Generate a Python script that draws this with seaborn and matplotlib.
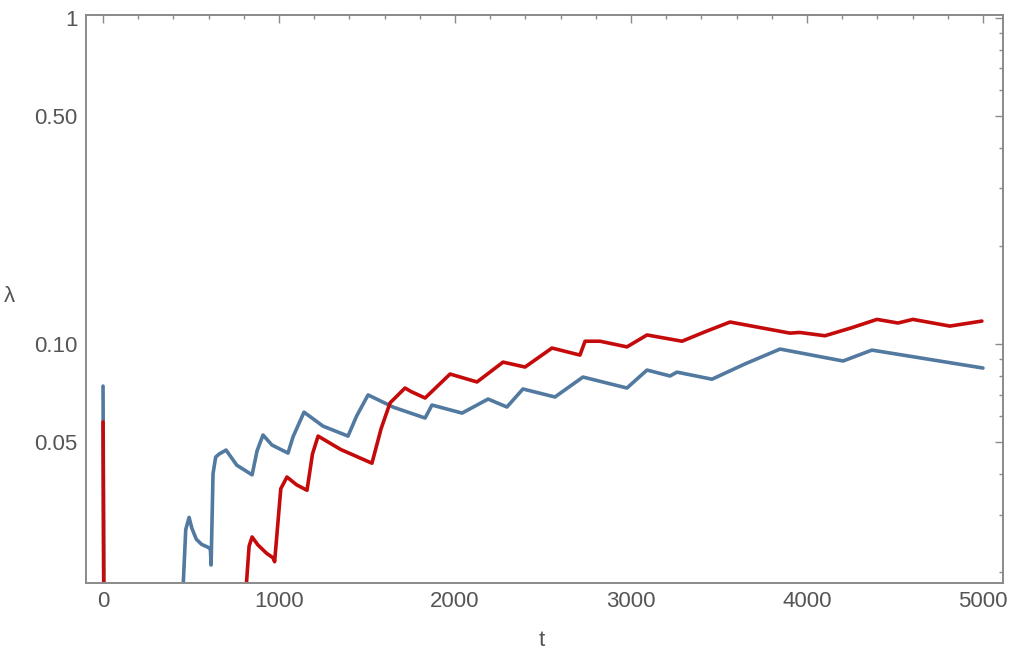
#Plot lambda(t) for two runs, log scale on lambda
import numpy as np
import matplotlib
matplotlib.use('Agg')
import matplotlib.pyplot as plt
import matplotlib.ticker as mticker
import seaborn as sns
import pandas as pd

#values
t_blue = [0, 6, 440, 470, 489, 505, 530, 560, 597, 610, 614, 625, 640, 660, 699, 760, 847, 875, 909,
          960, 1051, 1080, 1142, 1250, 1392, 1440, 1506, 1650, 1830, 1869, 2040, 2188, 2295, 2386, 2568,
          2727, 2977, 3091, 3222, 3261, 3460, 3650, 3847, 4205, 4369, 5000]
lam_blue = [0.0743, 0.01, 0.012, 0.027, 0.0294, 0.0272, 0.0252, 0.0243, 0.0238, 0.0235, 0.021, 0.040, 0.045, 0.046, 0.0473, 0.0425, 0.0397, 0.047, 0.0526,
            0.0490, 0.0463, 0.052, 0.0618, 0.0560, 0.0522, 0.060, 0.0698, 0.0640, 0.0593, 0.065, 0.0614, 0.0678, 0.0641, 0.0728, 0.0688,
            0.0792, 0.0733, 0.0832, 0.0798, 0.082, 0.078, 0.0870, 0.0965, 0.0887, 0.0958, 0.0844]

t_red = [0, 6, 790, 830, 847, 880, 930, 966, 975, 1010, 1045, 1100, 1159, 1190, 1222, 1350, 1528, 1580,
         1631, 1716, 1750, 1830, 1972, 2125, 2273, 2398, 2551, 2710, 2739, 2824, 2977,
         3091, 3290, 3420, 3563, 3903, 3960, 4102, 4250, 4398, 4517, 4602, 4812, 4994]
lam_red = [0.0577, 0.01, 0.012, 0.024, 0.0256, 0.0242, 0.0228, 0.0221, 0.0215, 0.036, 0.0391, 0.0370, 0.0356, 0.046, 0.0522, 0.0475, 0.0431, 0.055,
           0.066, 0.0733, 0.0715, 0.0683, 0.0809, 0.0765, 0.088, 0.085, 0.0972, 0.0925, 0.102, 0.102, 0.098,
           0.1066, 0.102, 0.1090, 0.1168, 0.108, 0.1085, 0.106, 0.1120, 0.119, 0.116, 0.119, 0.1135, 0.1176]

y_ticks = [0.05, 0.10, 0.50, 1]
y_ticklabels = ['0.05', '0.10', '0.50', '1']
x_ticks = [0, 1000, 2000, 3000, 4000, 5000]

df_blue = pd.DataFrame({'t': t_blue, 'lam': lam_blue})
df_red = pd.DataFrame({'t': t_red, 'lam': lam_red})

sns.set_style('white')
plt.rcParams['font.family'] = ['Liberation Sans', 'DejaVu Sans']

fig = plt.figure(figsize=(10.15, 6.58), dpi=100)
ax = fig.add_axes([0.0847, 0.114, 0.9035, 0.863])

sns.lineplot(data=df_blue, x='t', y='lam', ax=ax, color='#52799f', lw=2.6, sort=False)
sns.lineplot(data=df_red, x='t', y='lam', ax=ax, color='#c40a0a', lw=2.6, sort=False)

ax.set_yscale('log')
ax.set_xlim(-97, 5114)
ax.set_ylim(0.0185, 1.02)

ax.yaxis.set_major_locator(mticker.FixedLocator(y_ticks))
ax.yaxis.set_major_formatter(mticker.FixedFormatter(y_ticklabels))
ax.yaxis.set_minor_locator(mticker.LogLocator(base=10, subs=np.arange(2, 10) * 1.0))
ax.yaxis.set_minor_formatter(mticker.NullFormatter())
ax.xaxis.set_major_locator(mticker.FixedLocator(x_ticks))
ax.xaxis.set_minor_locator(mticker.MultipleLocator(200))

for s in ax.spines.values():
    s.set_color('#8a8a8a')
    s.set_linewidth(1.4)

ax.tick_params(which='both', direction='in', top=True, right=True, color='#8a8a8a',
               labelcolor='#555555', labelsize=16, width=1.0)
ax.tick_params(which='major', length=6, pad=6)
ax.tick_params(which='minor', length=3)
ax.tick_params(axis='y', which='both', labelright=False)
ax.tick_params(axis='x', which='both', labeltop=False)

ax.set_xlabel('t', fontsize=16, color='#555555')
ax.set_ylabel('λ', fontsize=16, color='#555555', rotation=0, va='center')
ax.xaxis.set_label_coords(0.497, -0.082)
ax.yaxis.set_label_coords(-0.083, 0.505)

plt.savefig('out.png', dpi=100)
